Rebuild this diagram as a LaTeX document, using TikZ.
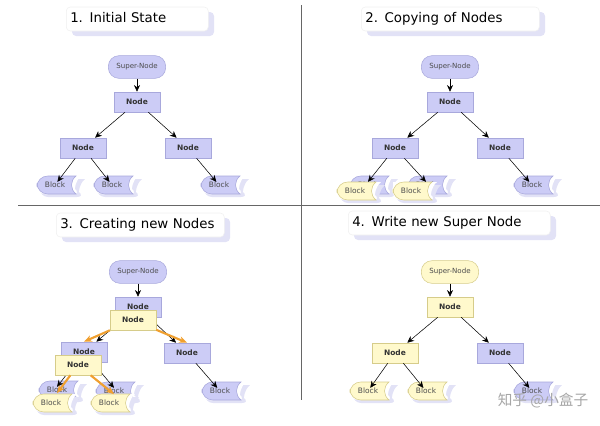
\documentclass[tikz,border=0pt]{standalone}
\usepackage{fontspec}
\setmainfont{DejaVu Sans}
\newfontfamily\cjk{Noto Sans CJK SC}
\usetikzlibrary{arrows.meta}
\definecolor{bfill}{HTML}{CCCCF6}
\definecolor{bdraw}{HTML}{A8A8DC}
\definecolor{bshad}{HTML}{E2E2F6}
\definecolor{yfill}{HTML}{FFF9CC}
\definecolor{ydraw}{HTML}{D6CC8A}
\definecolor{oarr}{HTML}{F0A030}
\tikzset{
 title/.style={draw=black!6,fill=white,rounded corners=3,anchor=west,font=\fontsize{10}{12}\selectfont,inner xsep=3pt,text depth=2pt,align=left},
 nd/.style={draw=bdraw,fill=bfill,minimum width=34.5pt,minimum height=15pt,inner sep=0pt,font=\bfseries\fontsize{5.6}{6}\selectfont,text=black!80},
 ynd/.style={nd,draw=ydraw,fill=yfill},
 sn/.style={draw=bdraw,fill=bfill,rounded corners=8pt,minimum width=43pt,minimum height=17pt,inner sep=0pt,font=\fontsize{5.3}{6}\selectfont,text=black!70},
 ysn/.style={sn,draw=ydraw,fill=yfill},
 bk/.style={inner sep=0pt,font=\fontsize{5.6}{6}\selectfont,text=black!70},
 ar/.style={-{Stealth[length=5pt,width=4.5pt]},line width=0.4pt},
 oa/.style={-{Stealth[length=6pt,width=5pt]},line width=1.6pt,draw=oarr},
 sep/.style={draw=black!60,line width=0.6pt}
}
\newcommand\blk[5]{%
 \begin{scope}[shift={(#2,#3)}]
  \fill[bshad] (-19,-6) [rounded corners=6] -- (-19,12) -- (26,12)[sharp corners] .. controls (20,7) and (20,-1) .. (26,-6) -- cycle;
  \fill[white] (-22,-9) [rounded corners=6] -- (-22,9) -- (22,9)[sharp corners] .. controls (16,4) and (16,-4) .. (22,-9) -- cycle;
  \filldraw[fill=#4,draw=#5,line width=0.4pt] (-2,-9) [rounded corners=8] -- (-22,-9) -- (-22,9) [sharp corners] -- (17,9) .. controls (11,4) and (11,-4) .. (17,-9) -- cycle;
 \end{scope}
 \node[bk] (#1) at (#2-4,#3) {Block};}
\newcommand\ttl[5]{%
 \fill[bshad,rounded corners=3] (#2+6,#3-7) rectangle (#2+#4+6,#3+17);
 \node[title,text width=#4*0.75pt-6pt,minimum height=18pt] (#1) at (#2,#3) {#5};}
\begin{document}
\begin{tikzpicture}[x=0.75pt,y=-0.75pt]
\useasboundingbox (0,0) rectangle (600,425);
\draw[sep] (18,205) -- (600,205);
\draw[sep] (301,5) -- (301,400);
% Q1
\ttl{t1}{66}{19}{142}{1. Initial State}
\node[sn] (s1) at (137,67) {Super-Node};
\node[nd] (n1) at (137,102) {Node};
\node[nd] (l1) at (83,148) {Node};
\node[nd] (r1) at (188,148) {Node};
\blk{a1}{59}{185}{bfill}{bdraw}
\blk{b1}{116}{185}{bfill}{bdraw}
\blk{c1}{223}{185}{bfill}{bdraw}
\draw[ar] (s1) -- (n1);
\draw[ar] (n1) -- (l1); \draw[ar] (n1) -- (r1);
\draw[ar] (l1) -- (a1); \draw[ar] (l1) -- (b1); \draw[ar] (r1) -- (c1);
% Q2
\ttl{t2}{361}{19}{178}{2. Copying of Nodes}
\node[sn] (s2) at (450,67) {Super-Node};
\node[nd] (n2) at (450,102) {Node};
\node[nd] (l2) at (395,148) {Node};
\node[nd] (r2) at (500,148) {Node};
\blk{a2}{372}{185}{bfill}{bdraw}
\blk{b2}{430}{185}{bfill}{bdraw}
\blk{c2}{536}{185}{bfill}{bdraw}
\blk{ya2}{359}{191}{yfill}{ydraw}
\blk{yb2}{415}{191}{yfill}{ydraw}
\draw[ar] (s2) -- (n2);
\draw[ar] (n2) -- (l2); \draw[ar] (n2) -- (r2);
\draw[ar] (l2) -- (a2.north); \draw[ar] (l2) -- (b2.north); \draw[ar] (r2) -- (c2);
% Q3
\ttl{t3}{56}{225}{168}{3. Creating new Nodes}
\node[sn] (s3) at (138,272) {Super-Node};
\node[nd] (n3) at (138,307) {Node};
\node[nd] (l3) at (84,352) {Node};
\node[nd] (r3) at (187,353) {Node};
\blk{a3}{61}{390}{bfill}{bdraw}
\blk{b3}{118}{391}{bfill}{bdraw}
\blk{c3}{224}{391}{bfill}{bdraw}
\draw[ar] (s3) -- (n3);
\draw[ar] (n3) -- (l3); \draw[ar] (n3) -- (r3);
\draw[ar] (l3) -- (a3.north); \draw[ar] (l3) -- (b3.north); \draw[ar] (r3) -- (c3);
\node[ynd] (yn3) at (133,320) {Node};
\node[ynd] (yl3) at (78,365) {Node};
\blk{ya3}{55}{403}{yfill}{ydraw}
\blk{yb3}{113}{403}{yfill}{ydraw}
\draw[oa] (yn3) -- (l3.north);
\draw[oa] (yn3) -- (r3.north);
\draw[oa] (yl3) -- (a3.south);
\draw[oa] (yl3) -- (b3.south);
% Q4
\ttl{t4}{348}{223}{202}{4. Write new Super Node}
\node[ysn] (s4) at (450,272) {Super-Node};
\node[ynd] (n4) at (450,307) {Node};
\node[ynd] (l4) at (395,353) {Node};
\node[nd] (r4) at (500,353) {Node};
\blk{a4}{372}{391}{yfill}{ydraw}
\blk{b4}{430}{391}{yfill}{ydraw}
\blk{c4}{536}{391}{bfill}{bdraw}
\draw[ar] (s4) -- (n4);
\draw[ar] (n4) -- (l4); \draw[ar] (n4) -- (r4);
\draw[ar] (l4) -- (a4); \draw[ar] (l4) -- (b4); \draw[ar] (r4) -- (c4);
\node[text=black!35,font=\cjk\fontsize{11}{12}\selectfont,inner sep=0pt] (wm) at (543,401) {知乎 @小盒子};
\end{tikzpicture}
\end{document}
